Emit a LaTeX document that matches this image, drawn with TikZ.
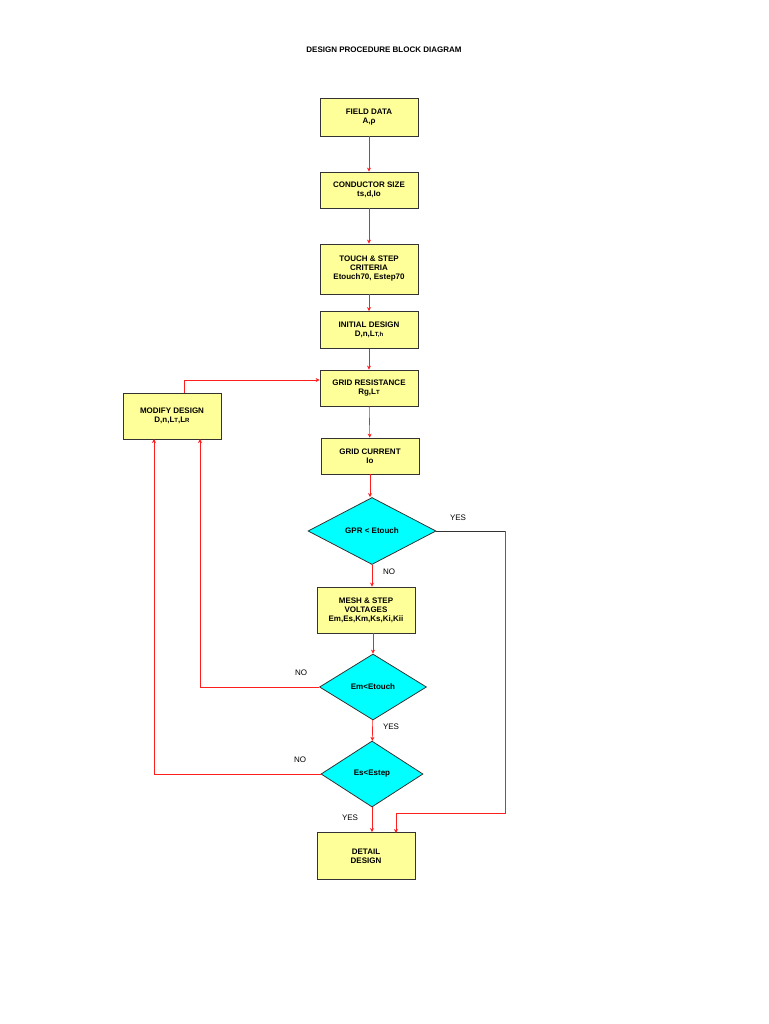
\documentclass[tikz,border=0pt]{standalone}
\usepackage{fontspec}
\setmainfont{Liberation Sans}
\usetikzlibrary{shapes.geometric,arrows.meta}
\definecolor{cy}{RGB}{0,255,255}
\definecolor{yl}{RGB}{255,255,153}
\definecolor{rd}{RGB}{255,30,30}
\begin{document}
\begin{tikzpicture}[x=1pt,y=-1pt,
  font=\fontsize{8}{9}\selectfont\bfseries,
  box/.style={draw=black!80,fill=yl,line width=0.8pt,minimum width=98pt,align=center,inner sep=1pt},
  dia/.style={draw=black!80,fill=cy,diamond,aspect=1.9,line width=0.8pt,inner sep=0pt,align=center},
  ar/.style={draw=rd,line width=0.6pt,-{Stealth[length=4pt,width=4pt]}},
  lb/.style={font=\fontsize{8}{9}\selectfont}]
\useasboundingbox (0,0) rectangle (768,1024);
\node (title) at (384,50) {DESIGN PROCEDURE BLOCK DIAGRAM};
\node[box,minimum height=38pt] (fd) at (369,117) {FIELD DATA\\A,ρ};
\node[box,minimum height=36pt] (cs) at (369,190) {CONDUCTOR SIZE\\ts,d,Io};
\node[box,minimum height=50pt] (ts) at (369,269) {TOUCH \& STEP\\CRITERIA\\Etouch70, Estep70};
\node[box,minimum height=37pt] (id) at (369,330) {INITIAL DESIGN\\D,n,L{\fontsize{6}{7}\selectfont T,h}};
\node[box,minimum height=36pt] (gr) at (369,388) {GRID RESISTANCE\\Rg,L{\fontsize{6}{7}\selectfont T}};
\node[box,minimum height=36pt] (gc) at (370,456) {GRID CURRENT\\Io};
\node[box,minimum height=46pt] (md) at (172,416) {MODIFY DESIGN\\D,n,L{\fontsize{6}{7}\selectfont T},L{\fontsize{6}{7}\selectfont R}};
\node[dia,minimum width=128pt,minimum height=67pt] (gpr) at (372,531) {GPR \textless{} Etouch};
\node[box,minimum height=46pt] (ms) at (366,610) {MESH \& STEP\\VOLTAGES\\Em,Es,Km,Ks,Ki,Kii};
\node[dia,minimum width=107pt,minimum height=66pt] (em) at (373,687) {Em\textless Etouch};
\node[dia,minimum width=102pt,minimum height=66pt] (es) at (372,774) {Es\textless Estep};
\node[box,minimum height=47pt] (dd) at (366,856) {DETAIL\\DESIGN};
\coordinate (gprR) at (505,531);
\draw[ar] (fd) -- (cs);
\draw[ar] (cs) -- (ts);
\draw[ar] (ts) -- (id);
\draw[ar] (id) -- (gr);
\draw[ar] (gr) -- (gc);
\draw[ar] (gc.south) -- (gc.south|-gpr.north);
\draw[ar] (gpr.south) -- (gpr.south|-ms.north);
\draw[ar] (ms.south-|em.north) -- (em.north);
\draw[ar] (em) -- (es);
\draw[ar] (es.south) -- (es.south|-dd.north);
\draw[ar] (md.north -| 184,0) |- (gr.west |- 0,380);
\draw[ar] (em.west) -| (200,439);
\draw[ar] (es.west) -| (154,439);
\draw[black!80,line width=0.6pt] (gpr.east) -- (gprR);
\draw[ar] (gprR) |- (396,813) -- (396,833);
\node[lb] (l1) at (458,518) {YES};
\node[lb] (l2) at (389,572) {NO};
\node[lb] (l3) at (301,673) {NO};
\node[lb] (l4) at (391,727) {YES};
\node[lb] (l5) at (300,760) {NO};
\node[lb] (l6) at (350,818) {YES};
\end{tikzpicture}
\end{document}
